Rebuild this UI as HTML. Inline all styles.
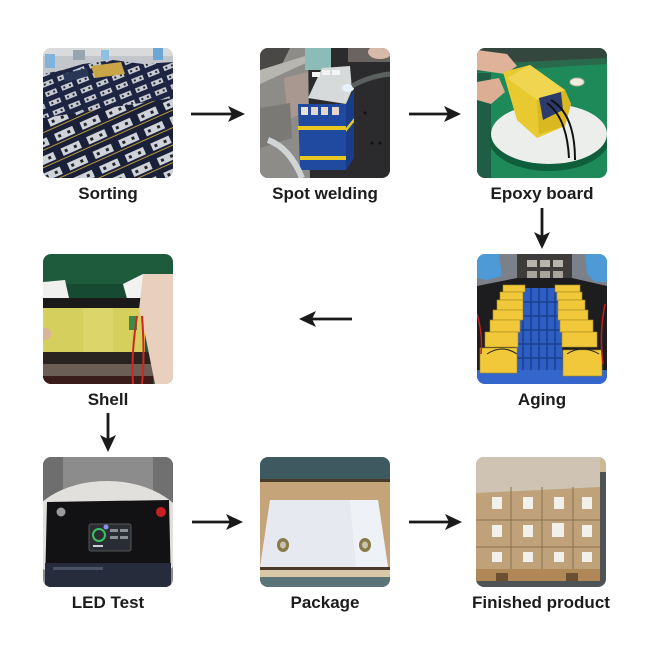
<!DOCTYPE html>
<html><head><meta charset="utf-8">
<style>
html,body{margin:0;padding:0;background:#fff;}
svg{display:block;}
text{font-family:"Liberation Sans",Arial,sans-serif;font-weight:bold;font-size:17px;fill:#1c1c1c;}
</style></head><body>
<svg width="650" height="656" viewBox="0 0 650 656" xmlns="http://www.w3.org/2000/svg">
<defs>
<clipPath id="r"><rect x="0" y="0" width="130" height="130" rx="8" ry="8"/></clipPath>
<pattern id="bat" width="17" height="10" patternUnits="userSpaceOnUse" patternTransform="rotate(-22)">
 <rect width="17" height="10" fill="#1d2542"/>
 <rect x="2" y="2" width="12" height="5" fill="#c4c9d2"/>
 <rect x="4" y="3.5" width="2" height="2" fill="#2a2a30"/>
 <rect x="10" y="3.5" width="2" height="2" fill="#2a2a30"/>
</pattern>
<pattern id="bat2" width="28" height="16" patternUnits="userSpaceOnUse" patternTransform="rotate(-24)">
 <rect width="28" height="16" fill="#1a2038"/>
 <rect x="3" y="3" width="20" height="8" fill="#cfd3da"/>
 <rect x="6" y="5.5" width="3" height="3" fill="#25252a"/>
 <rect x="16" y="5.5" width="3" height="3" fill="#25252a"/>
 <rect x="0" y="13" width="28" height="1" fill="#b89a40"/>
</pattern>
</defs>

<!-- ============ Sorting ============ -->
<g transform="translate(43,48)" clip-path="url(#r)">
 <rect width="130" height="130" fill="#c3c7cc"/>
 <rect x="0" y="0" width="130" height="8" fill="#d8dadc"/>
 <rect x="2" y="6" width="10" height="14" fill="#7fb3dc"/>
 <rect x="30" y="2" width="12" height="10" fill="#9aa4ac"/>
 <rect x="58" y="2" width="8" height="10" fill="#8ec0e2"/>
 <rect x="110" y="0" width="10" height="12" fill="#6aa6d6"/>
 <polygon points="0,26 20,22 40,16 70,12 100,16 130,14 130,130 0,130" fill="url(#bat)"/>
 <polygon points="0,70 130,50 130,130 0,130" fill="url(#bat2)"/>
 <polygon points="48,18 78,14 82,26 52,30" fill="#c9a548"/>
 <polygon points="20,26 44,20 46,28 22,34" fill="#2a3658"/>
</g>

<!-- ============ Spot welding ============ -->
<g transform="translate(260,48)" clip-path="url(#r)">
 <rect width="130" height="130" fill="#2b2b2d"/>
 <polygon points="0,0 48,0 50,130 0,130" fill="#8d8c88"/>
 <polygon points="0,0 30,0 20,20 0,35" fill="#4a4846"/>
 <polygon points="0,22 45,8 48,14 0,36" fill="#b8b6b0"/>
 <polygon points="24,30 48,24 48,62 28,72" fill="#a89890"/>
 <polygon points="0,60 30,55 32,90 0,100" fill="#7a7976"/>
 <rect x="88" y="0" width="42" height="14" fill="#6a6460"/>
 <ellipse cx="120" cy="4" rx="12" ry="7" fill="#d8b8a8"/>
 <rect x="45" y="0" width="26" height="22" fill="#8cbcb8"/>
 <polygon points="48,50 62,20 90,18 92,42 86,56" fill="#d6dada"/>
 <rect x="52" y="24" width="8" height="5" fill="#f4f4f4"/>
 <rect x="62" y="22" width="8" height="5" fill="#f4f4f4"/>
 <rect x="72" y="22" width="8" height="5" fill="#f4f4f4"/>
 <polygon points="38,56 86,56 86,122 40,122" fill="#1f4aa0"/>
 <rect x="38" y="78" width="48" height="4" fill="#e8c820"/>
 <rect x="40" y="108" width="46" height="4" fill="#e8c820"/>
 <polygon points="86,56 94,42 94,110 86,122" fill="#183c88"/>
 <polygon points="86,80 94,70 94,74 86,84" fill="#e8c820"/>
 <rect x="41" y="59" width="7" height="8" fill="#e6e2dc"/>
 <rect x="51" y="59" width="7" height="8" fill="#e6d8d0"/>
 <rect x="61" y="59" width="7" height="8" fill="#e6d8d0"/>
 <rect x="72" y="59" width="7" height="8" fill="#e6d8d0"/>
 <ellipse cx="88" cy="40" rx="6" ry="4" fill="#e8f0ff"/>
 <path d="M92,38 Q110,28 130,26" stroke="#5a605e" stroke-width="5" fill="none"/>
 <path d="M8,92 Q30,100 42,130" stroke="#d0d4d4" stroke-width="6" fill="none"/>
 <circle cx="105" cy="65" r="1.5" fill="#111"/>
 <circle cx="112" cy="95" r="1.5" fill="#111"/>
 <circle cx="120" cy="95" r="1.5" fill="#111"/>
</g>

<!-- ============ Epoxy board ============ -->
<g transform="translate(477,48)" clip-path="url(#r)">
 <rect width="130" height="130" fill="#1e8a5a"/>
 <rect width="130" height="16" fill="#34473f"/>
 <polygon points="0,16 130,10 130,16 0,24" fill="#2a6a4c"/>
 <rect x="0" y="25" width="14" height="105" fill="#1f5d45"/>
 <ellipse cx="72" cy="91" rx="60" ry="32" fill="#0f5e3c"/>
 <ellipse cx="72" cy="86" rx="58" ry="30" fill="#eceeec"/>
 <ellipse cx="100" cy="34" rx="7" ry="4" fill="#f0ece0" stroke="#bfb8a0"/>
 <polygon points="0,2 30,6 40,18 28,26 0,22" fill="#dfb39a"/>
 <polygon points="0,34 22,30 28,44 14,56 0,52" fill="#dcae94"/>
 <polygon points="26,24 53,17 88,42 94,56 88,78 60,90 40,72" fill="#e8c930"/>
 <polygon points="53,17 88,42 60,52 30,30" fill="#f0d650"/>
 <polygon points="60,52 88,42 94,56 88,78 62,86" fill="#d9b822"/>
 <polygon points="62,50 84,44 86,62 66,72" fill="#2c3a6c"/>
 <path d="M70,55 Q90,70 92,110" stroke="#111" stroke-width="2" fill="none"/>
 <path d="M74,52 Q98,66 98,112" stroke="#111" stroke-width="2" fill="none"/>
</g>

<!-- ============ Shell ============ -->
<g transform="translate(43,254)" clip-path="url(#r)">
 <rect width="130" height="130" fill="#1e5a3c"/>
 <rect x="0" y="30" width="130" height="20" fill="#174a32"/>
 <polygon points="0,28 22,26 26,44 0,46" fill="#f0f0ee"/>
 <polygon points="80,30 100,20 112,24 108,50 86,52" fill="#f2f2f0"/>
 <rect x="0" y="44" width="100" height="10" fill="#1a1a1a"/>
 <rect x="0" y="54" width="102" height="44" fill="#d5cf5e"/>
 <rect x="40" y="54" width="30" height="44" fill="#dcd66a"/>
 <rect x="0" y="98" width="110" height="12" fill="#2a2420"/>
 <rect x="0" y="110" width="110" height="12" fill="#6b5e55"/>
 <rect x="0" y="122" width="110" height="8" fill="#3a1c1a"/>
 <polygon points="100,20 130,20 130,130 112,130 102,80 96,56" fill="#e9cfbd"/>
 <rect x="86" y="62" width="8" height="14" fill="#3a8a4a"/>
 <path d="M94,62 Q88,100 90,130" stroke="#d42424" stroke-width="2" fill="none"/>
 <path d="M99,62 Q102,100 99,130" stroke="#d42424" stroke-width="2" fill="none"/>
 <ellipse cx="2" cy="80" rx="6" ry="6" fill="#d9b49a"/>
</g>

<!-- ============ Aging ============ -->
<g transform="translate(477,254)" clip-path="url(#r)">
 <rect width="130" height="130" fill="#7c8088"/>
 <rect x="40" y="0" width="55" height="35" fill="#3e3c3a"/>
 <rect x="50" y="6" width="10" height="7" fill="#b8b4ac"/>
 <rect x="63" y="6" width="10" height="7" fill="#b8b4ac"/>
 <rect x="76" y="6" width="10" height="7" fill="#b8b4ac"/>
 <rect x="50" y="17" width="10" height="7" fill="#a8a49c"/>
 <rect x="63" y="17" width="10" height="7" fill="#a8a49c"/>
 <rect x="76" y="17" width="10" height="7" fill="#a8a49c"/>
 <polygon points="0,0 22,0 25,22 10,26 0,24" fill="#4d9ad6"/>
 <polygon points="108,0 130,0 130,28 118,28 110,20" fill="#4d9ad6"/>
 <polygon points="0,32 40,24 95,24 130,32 130,122 0,122" fill="#1d1d1f"/>
 <polygon points="40,34 84,34 86,130 38,130" fill="#2d5ec4"/>
 <g stroke="#1c3f8e" stroke-width="1.5">
  <line x1="46" y1="34" x2="46" y2="130"/><line x1="54" y1="34" x2="54" y2="130"/>
  <line x1="62" y1="34" x2="62" y2="130"/><line x1="70" y1="34" x2="70" y2="130"/>
  <line x1="78" y1="34" x2="78" y2="130"/>
  <line x1="40" y1="48" x2="86" y2="48"/><line x1="40" y1="62" x2="86" y2="62"/>
  <line x1="40" y1="76" x2="86" y2="76"/><line x1="40" y1="90" x2="86" y2="90"/>
  <line x1="40" y1="104" x2="86" y2="104"/>
 </g>
 <rect x="0" y="116" width="130" height="14" fill="#3466cc"/>
 <g fill="#f0c83a" stroke="#a88a20" stroke-width="0.6">
  <rect x="26" y="31" width="22" height="7"/>
  <rect x="23" y="38" width="23" height="8"/>
  <rect x="20" y="46" width="26" height="10"/>
  <rect x="16" y="56" width="30" height="10"/>
  <rect x="13" y="66" width="30" height="12"/>
  <rect x="8" y="78" width="33" height="15"/>
  <rect x="3" y="94" width="37" height="25"/>
  <rect x="78" y="31" width="25" height="7"/>
  <rect x="80" y="38" width="25" height="8"/>
  <rect x="81" y="46" width="27" height="10"/>
  <rect x="81" y="56" width="30" height="10"/>
  <rect x="83" y="66" width="33" height="12"/>
  <rect x="85" y="78" width="35" height="15"/>
  <rect x="86" y="96" width="39" height="26"/>
 </g>
 <path d="M10,100 Q25,90 40,100" stroke="#222" stroke-width="1" fill="none"/>
 <path d="M90,100 Q105,90 122,100" stroke="#222" stroke-width="1" fill="none"/>
 <path d="M0,60 Q6,80 4,100" stroke="#c02020" stroke-width="1.5" fill="none"/>
 <path d="M128,50 Q122,80 126,110" stroke="#c02020" stroke-width="1.5" fill="none"/>
</g>

<!-- ============ LED Test ============ -->
<g transform="translate(43,457)" clip-path="url(#r)">
 <rect width="130" height="130" fill="#8c8c8c"/>
 <rect x="0" y="0" width="20" height="50" fill="#6e6e6e"/>
 <rect x="110" y="0" width="20" height="50" fill="#707070"/>
 <ellipse cx="64" cy="78" rx="82" ry="54" fill="#e2e0dc"/>
 <polygon points="4,45 126,43 128,130 2,130" fill="#121214"/>
 <rect x="2" y="106" width="126" height="24" fill="#262c3c"/>
 <rect x="10" y="110" width="50" height="3" fill="#4a5266"/>
 <circle cx="18" cy="55" r="4.5" fill="#9a9a9a"/>
 <circle cx="118" cy="55" r="5" fill="#c82020"/>
 <rect x="46" y="67" width="42" height="27" rx="2" fill="#2a2e34" stroke="#555" stroke-width="1"/>
 <circle cx="56" cy="78" r="6" fill="none" stroke="#3cc060" stroke-width="2"/>
 <rect x="67" y="72" width="8" height="3" fill="#8a8e96"/>
 <rect x="77" y="72" width="8" height="3" fill="#8a8e96"/>
 <rect x="67" y="79" width="8" height="3" fill="#8a8e96"/>
 <rect x="77" y="79" width="8" height="3" fill="#8a8e96"/>
 <rect x="50" y="88" width="10" height="2" fill="#cfcfcf"/>
 <circle cx="63" cy="70" r="2.5" fill="#8a8ef0"/>
</g>

<!-- ============ Package ============ -->
<g transform="translate(260,457)" clip-path="url(#r)">
 <rect width="130" height="130" fill="#3e5a60"/>
 <rect x="0" y="22" width="130" height="3" fill="#4a3a2a"/>
 <rect x="0" y="25" width="130" height="20" fill="#c4a478"/>
 <rect x="0" y="25" width="130" height="88" fill="#c4a478"/>
 <polygon points="10,43 118,43 128,110 0,110" fill="#e6eaf0"/>
 <polygon points="90,43 118,43 128,110 96,110" fill="#eef1f6"/>
 <ellipse cx="23" cy="88" rx="6" ry="7" fill="#8a7a48"/>
 <ellipse cx="23" cy="88" rx="3" ry="3.5" fill="#c8c4b0"/>
 <ellipse cx="105" cy="88" rx="6" ry="7" fill="#8a7a48"/>
 <ellipse cx="105" cy="88" rx="3" ry="3.5" fill="#c8c4b0"/>
 <rect x="0" y="110" width="130" height="3" fill="#4a3a2a"/>
 <rect x="0" y="113" width="130" height="7" fill="#d8c8a8"/>
 <rect x="0" y="120" width="130" height="10" fill="#5a7478"/>
</g>

<!-- ============ Finished product ============ -->
<g transform="translate(476,457)" clip-path="url(#r)">
 <rect width="130" height="130" fill="#4e5456"/>
 <rect x="97" y="0" width="33" height="15" fill="#cdb896"/>
 <rect x="0" y="0" width="124" height="112" fill="#bfa27a"/>
 <polygon points="0,0 124,0 124,30 0,36" fill="#cfc4b4"/>
 <g stroke="#8a7050" stroke-width="1">
  <line x1="35" y1="30" x2="35" y2="112"/><line x1="66" y1="30" x2="66" y2="112"/>
  <line x1="97" y1="30" x2="97" y2="112"/>
  <line x1="0" y1="63" x2="124" y2="63"/><line x1="0" y1="90" x2="124" y2="90"/>
 </g>
 <g fill="#f2f0ea">
  <rect x="16" y="40" width="10" height="12"/><rect x="47" y="40" width="10" height="12"/>
  <rect x="78" y="40" width="10" height="12"/><rect x="106" y="40" width="10" height="12"/>
  <rect x="16" y="68" width="10" height="12"/><rect x="47" y="68" width="10" height="12"/>
  <rect x="76" y="66" width="12" height="14"/><rect x="106" y="68" width="10" height="12"/>
  <rect x="16" y="95" width="10" height="10"/><rect x="47" y="95" width="10" height="10"/>
  <rect x="78" y="95" width="10" height="10"/><rect x="106" y="95" width="10" height="10"/>
 </g>
 <rect x="0" y="112" width="124" height="12" fill="#b08858"/>
 <rect x="20" y="116" width="12" height="8" fill="#6a5030"/>
 <rect x="90" y="116" width="12" height="8" fill="#6a5030"/>
</g>

<!-- ============ Arrows ============ -->
<g stroke="#1a1a1a" stroke-width="2.8" fill="none">
 <line x1="191" y1="114" x2="232" y2="114"/>
 <line x1="409" y1="114" x2="448" y2="114"/>
 <line x1="542" y1="208" x2="542" y2="236"/>
 <line x1="312" y1="319" x2="352" y2="319"/>
 <line x1="108" y1="413" x2="108" y2="439"/>
 <line x1="192" y1="522" x2="230" y2="522"/>
 <line x1="409" y1="522" x2="449" y2="522"/>
</g>
<g fill="#1a1a1a">
 <path d="M245,114 L228,106 L232,114 L228,122 Z"/>
 <path d="M461,114 L444,106 L448,114 L444,122 Z"/>
 <path d="M542,249 L534,232 L542,236 L550,232 Z"/>
 <path d="M299,319 L316,311 L312,319 L316,327 Z"/>
 <path d="M108,452 L100,435 L108,439 L116,435 Z"/>
 <path d="M243,522 L226,514 L230,522 L226,530 Z"/>
 <path d="M462,522 L445,514 L449,522 L445,530 Z"/>
</g>

<!-- ============ Labels ============ -->
<text x="108" y="199" text-anchor="middle">Sorting</text>
<text x="325" y="199" text-anchor="middle">Spot welding</text>
<text x="542" y="199" text-anchor="middle">Epoxy board</text>
<text x="108" y="405" text-anchor="middle">Shell</text>
<text x="542" y="405" text-anchor="middle">Aging</text>
<text x="108" y="608" text-anchor="middle">LED Test</text>
<text x="325" y="608" text-anchor="middle">Package</text>
<text x="541" y="608" text-anchor="middle">Finished product</text>
</svg>
</body></html>
